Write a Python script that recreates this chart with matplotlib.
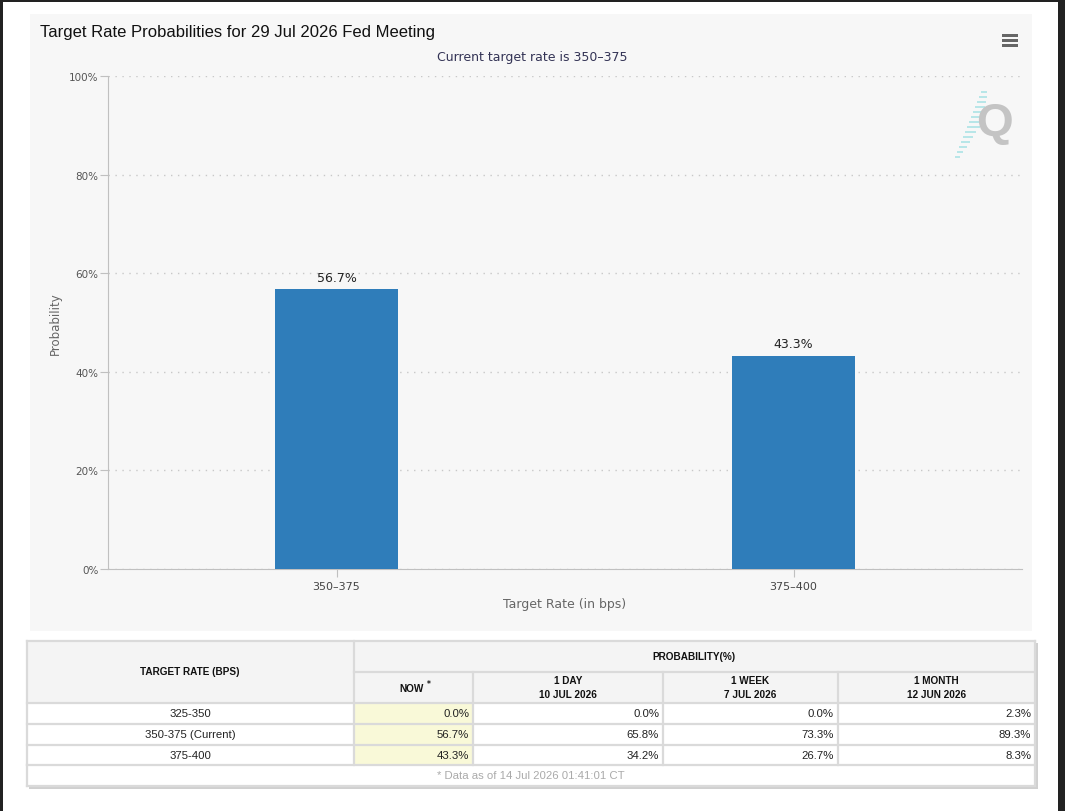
import matplotlib
matplotlib.use("Agg")
import matplotlib.pyplot as plt
from matplotlib.patches import Rectangle
from matplotlib.ticker import FuncFormatter

# ---- data ----
chart_ranges = ["350–375", "375–400"]
chart_probs = [56.7, 43.3]
current_range = "350–375"

table_rates = ["325-350", "350-375 (Current)", "375-400"]
prob_now = [0.0, 56.7, 43.3]
prob_1day = [0.0, 65.8, 34.2]
prob_1week = [0.0, 73.3, 26.7]
prob_1month = [2.3, 89.3, 8.3]
period_headers = ["NOW", "1 DAY\n10 JUL 2026", "1 WEEK\n7 JUL 2026", "1 MONTH\n12 JUN 2026"]
data_stamp = "* Data as of 14 Jul 2026 01:41:01 CT"

W, H = 1065, 812
fig = plt.figure(figsize=(W / 100, H / 100), dpi=100)
fig.patch.set_facecolor("white")


def fx(x):
    return x / W


def fy(y):
    return 1 - y / H


def rect(x0, y0, x1, y1, fc, ec="none", lw=0, z=0):
    fig.add_artist(Rectangle((fx(x0), fy(y1)), (x1 - x0) / W, (y1 - y0) / H,
                             transform=fig.transFigure, facecolor=fc,
                             edgecolor=ec, linewidth=lw, zorder=z))


def text(x, y, s, **kw):
    fig.text(fx(x), fy(y), s, **kw)


# page frame + chart panel
rect(0, 0, W, 3, "#222222", z=5)
rect(1058, 0, W, H, "#222222", z=5)
rect(0, 0, 3, H, "#222222", z=5)
rect(30, 15, 1032, 632, "#f7f7f7", z=0)

# ---- chart ----
ax = fig.add_axes([fx(108), fy(570), (1022 - 108) / W, (570 - 77) / H])
ax.set_facecolor("#f7f7f7")
xs = range(len(chart_ranges))
bars = ax.bar(xs, chart_probs, width=0.27, color="#2f7dba", zorder=3)
for b, v in zip(bars, chart_probs):
    ax.text(b.get_x() + b.get_width() / 2, v + 1.2, f"{v:.1f}%", ha="center",
            va="bottom", fontsize=9, color="#222222", family="DejaVu Sans")

ax.set_xlim(-0.5, len(chart_ranges) - 0.5)
ax.set_ylim(0, 100)
ax.set_yticks([0, 20, 40, 60, 80, 100])
ax.yaxis.set_major_formatter(FuncFormatter(lambda v, p: f"{v:.0f}%"))
ax.set_xticks(list(xs))
ax.set_xticklabels(chart_ranges)
ax.grid(axis="y", color="#c8c8c8", linestyle=(0, (1, 4)), linewidth=1, zorder=0)
for s in ["top", "right"]:
    ax.spines[s].set_visible(False)
ax.spines["left"].set_color("#c0c0c0")
ax.spines["bottom"].set_color("#c0c0c0")
ax.tick_params(axis="y", colors="#c0c0c0", labelcolor="#555555", labelsize=7.5,
               length=6, pad=1)
ax.tick_params(axis="x", colors="#c0c0c0", labelcolor="#444444", labelsize=8,
               length=6, pad=3)
ax.set_xlabel("Target Rate (in bps)", fontsize=9, color="#666666", labelpad=4)
ax.set_ylabel("Probability", fontsize=8.5, color="#666666", labelpad=5)

text(40, 33, "Target Rate Probabilities for 29 Jul 2026 Fed Meeting",
     fontsize=12, family="Liberation Sans", color="#111111", va="center")
text(532, 58, f"Current target rate is {current_range}", fontsize=9,
     color="#333355", ha="center", va="center")

# menu icon
for yy in (36, 41, 46):
    rect(1002, yy - 1.5, 1018, yy + 1.5, "#666666", z=3)
# Q logo
for i in range(14):
    yy = 157 - i * 5
    xx = 955 + i * 2.0
    rect(xx, yy, xx + 14 - abs(i - 7) * 1.3, yy + 1.6, "#b8e6e8", z=3)
text(995, 124, "Q", fontsize=34, weight="bold", color="#c4c4c4",
     family="Liberation Sans", ha="center", va="center", zorder=4)

# ---- table ----
cols = [27, 354, 473, 663, 838, 1035]
rows = [642, 673, 704, 725, 746, 766, 787]
border = "#dadada"
rect(29, 644, 1038, 790, "#d0d0d0", z=1)
rect(27, 642, 1035, 787, "white", z=2)
rect(27, 642, 1035, 704, "#f4f4f4", z=2)
rect(354, 704, 473, 766, "#f9f9d8", z=2)
lw = 1.6
for c in [cols[0], cols[1], cols[-1]]:
    fig.add_artist(plt.Line2D([fx(c)] * 2, [fy(642), fy(766)], color=border, lw=lw, zorder=3))
for c in cols[2:-1]:
    fig.add_artist(plt.Line2D([fx(c)] * 2, [fy(673), fy(766)], color=border, lw=lw, zorder=3))
for c in [cols[0], cols[-1]]:
    fig.add_artist(plt.Line2D([fx(c)] * 2, [fy(766), fy(787)], color=border, lw=lw, zorder=3))
fig.add_artist(plt.Line2D([fx(27), fx(1035)], [fy(642)] * 2, color=border, lw=lw, zorder=3))
fig.add_artist(plt.Line2D([fx(354), fx(1035)], [fy(673)] * 2, color=border, lw=lw, zorder=3))
for r in rows[2:]:
    fig.add_artist(plt.Line2D([fx(27), fx(1035)], [fy(r)] * 2, color=border, lw=lw, zorder=3))

hdr = dict(fontsize=7.2, weight="bold", family="Liberation Sans", color="#111111",
           ha="center", va="center", zorder=4, linespacing=1.4)
text(190, 672, "TARGET RATE (BPS)", **hdr)
text(694, 657, "PROBABILITY(%)", **hdr)
for i, h in enumerate(period_headers):
    cx = (cols[i + 1] + cols[i + 2]) / 2
    if i == 0:
        text(cx - 2, 689, h, **hdr)
        text(cx + 15, 685, "*", fontsize=5.5, weight="bold", color="#111111",
             ha="center", va="center", zorder=4)
    else:
        text(cx, 688, h, **hdr)

cell = dict(fontsize=8.2, family="Liberation Sans", color="#222222", va="center", zorder=4)
series = [prob_now, prob_1day, prob_1week, prob_1month]
for r, name in enumerate(table_rates):
    cy = (rows[r + 2] + rows[r + 3]) / 2
    text(190, cy, name, ha="center", **cell)
    for c, vals in enumerate(series):
        text(cols[c + 2] - 4, cy, f"{vals[r]:.1f}%", ha="right", **cell)
text(531, 776, data_stamp, fontsize=8.2, family="Liberation Sans", color="#aaaaaa",
     ha="center", va="center", zorder=4)

fig.savefig("out.png", dpi=100)
